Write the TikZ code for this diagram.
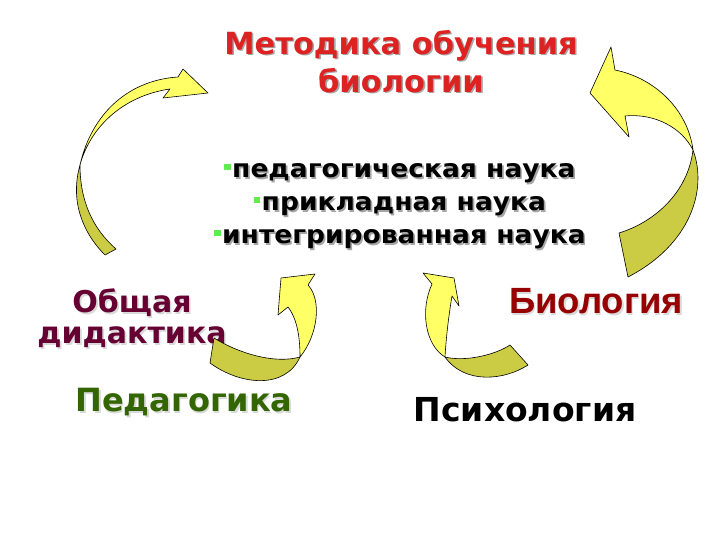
\documentclass[tikz,border=0pt]{standalone}
\usepackage{fontspec}
\setmainfont{DejaVu Sans}
\newfontfamily\titlefont{DejaVu Sans}
\newfontfamily\comicfont[FakeStretch=1.06]{DejaVu Sans}
\newfontfamily\labelfont{DejaVu Sans}
\newfontfamily\arialfont{Liberation Sans}

\definecolor{titlered}{RGB}{221,34,34}
\definecolor{bulletgreen}{RGB}{96,235,80}
\definecolor{labelmaroon}{RGB}{102,0,51}
\definecolor{biored}{RGB}{150,0,0}
\definecolor{pedgreen}{RGB}{51,102,0}
\definecolor{arrowyellow}{RGB}{255,255,102}
\definecolor{arrowolive}{RGB}{204,204,68}

% text with a drop shadow
\newcommand\shtext[2][black!35]{\makebox[0pt][l]{\kern1.6pt\raisebox{-1.6pt}{\color{#1}#2}}#2}
\newcommand\bul{\textcolor{bulletgreen}{\rule[0.3em]{0.25em}{0.25em}}\hspace{0.06em}}

\tikzset{
  arrowfront/.style={fill=arrowyellow, draw=black, line width=0.6pt, line join=round},
  arrowback/.style={fill=arrowolive, draw=black, line width=0.6pt, line join=round}
}

\begin{document}
\begin{tikzpicture}[x=1pt, y=-1pt]
\useasboundingbox (0,0) rectangle (720,540);

\node[text=titlered, font=\titlefont\bfseries\fontsize{30.5}{38}\selectfont, align=center] (T) at (401,62) {\shtext{Методика обучения}\\\shtext{биологии}};
\node[font=\comicfont\bfseries\fontsize{25}{33}\selectfont, align=center] (S) at (400,207) {\bul\shtext{педагогическая наука}\\\bul\shtext{прикладная наука}\\\bul\shtext{интегрированная наука}};
\node[text=labelmaroon, font=\labelfont\bfseries\fontsize{30}{31}\selectfont, align=center] (D) at (132,319) {\shtext[black!15]{Общая}\\\shtext[black!15]{дидактика}};
\node[text=biored, font=\arialfont\bfseries\fontsize{36.5}{40}\selectfont] (B) at (596,302) {\shtext[black!15]{Биология}};
\node[text=pedgreen, font=\labelfont\bfseries\fontsize{32}{34}\selectfont] (P) at (184,403) {\shtext[black!15]{Педагогика}};
\node[text=black, font=\labelfont\bfseries\fontsize{33}{36}\selectfont] (Ps) at (525,410) {Психология};

% Общая дидактика -> Методика
\path[arrowback] (80,165) .. controls (70,200) and (82,232) .. (105,255) -- (116,249) .. controls (92,228) and (80,200) .. (80,165) -- cycle;
\path[arrowfront] (208,93) -- (183,69) -- (178,77) .. controls (130,80) and (92,112) .. (80,165) .. controls (90,128) and (122,96) .. (170,89) -- (163,98) -- cycle;
% Биология -> Методика
\path[arrowback] (693,150) .. controls (708,190) and (690,245) .. (628,277) -- (619,233) .. controls (655,222) and (688,192) .. (693,150) -- cycle;
\path[arrowfront] (590,93) -- (611,47) -- (615,70) .. controls (655,78) and (688,110) .. (693,150) .. controls (682,128) and (655,113) .. (625,116) -- (629,137) -- cycle;
% Педагогика -> науки
\path[arrowback] (300,357) .. controls (275,364) and (240,354) .. (214,338) -- (210,363) .. controls (240,385) and (285,390) .. (300,357) -- cycle;
\path[arrowfront] (281,278) -- (315,274) -- (308,285) .. controls (322,300) and (318,335) .. (300,357) .. controls (300,340) and (298,320) .. (288,307) -- (278,315) -- cycle;
% Психология -> науки
\path[arrowback] (445,357) .. controls (465,362) and (495,355) .. (510,345) -- (528,365) .. controls (505,380) and (465,385) .. (445,357) -- cycle;
\path[arrowfront] (423,273) -- (454,278) -- (459,306) -- (452,296) .. controls (448,320) and (446,340) .. (445,357) .. controls (425,345) and (420,310) .. (432,284) -- cycle;
\end{tikzpicture}
\end{document}
